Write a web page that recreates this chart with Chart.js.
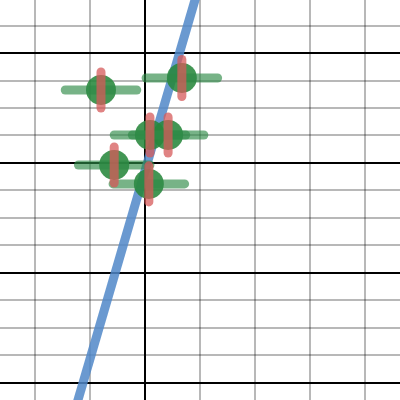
<!DOCTYPE html>
<html>
<head>
<style>html,body{margin:0;padding:0;background:#fff}#wrap{width:400px;height:400px}</style>
<script src="https://cdn.jsdelivr.net/npm/chart.js@4/dist/chart.umd.min.js"></script>
</head>
<body>
<div id="wrap"><canvas id="c"></canvas></div>
<script>
const xs = [-0.80, 0.67, 0.09, 0.42, -0.56, 0.07];
const ys = [0.664, 0.773, 0.255, 0.255, -0.018, -0.19];
const xErr = [0.65, 0.65, 0.65, 0.65, 0.65, 0.65];
const yErr = [0.164, 0.168, 0.164, 0.164, 0.164, 0.164];
const fitX = [-1.3, 1.0];
const fitY = [-2.295, 1.638];

const errorBars = {
  id: "errorBars",
  afterDatasetsDraw(chart) {
    const { ctx, scales: { x, y } } = chart;
    ctx.save();
    ctx.lineCap = "round";
    ctx.lineWidth = 9;
    ctx.strokeStyle = "rgba(46,139,70,0.65)";
    xs.forEach((v, i) => {
      ctx.beginPath();
      ctx.moveTo(x.getPixelForValue(v - xErr[i]), y.getPixelForValue(ys[i]));
      ctx.lineTo(x.getPixelForValue(v + xErr[i]), y.getPixelForValue(ys[i]));
      ctx.stroke();
    });
    ctx.strokeStyle = "rgba(214,90,90,0.75)";
    xs.forEach((v, i) => {
      ctx.beginPath();
      ctx.moveTo(x.getPixelForValue(v), y.getPixelForValue(ys[i] - yErr[i]));
      ctx.lineTo(x.getPixelForValue(v), y.getPixelForValue(ys[i] + yErr[i]));
      ctx.stroke();
    });
    ctx.restore();
  },
};

new Chart(document.getElementById("c"), {
  type: "scatter",
  data: {
    datasets: [
      {
        data: fitX.map((v, i) => ({ x: v, y: fitY[i] })),
        showLine: true,
        borderColor: "rgba(80,135,200,0.85)",
        borderWidth: 9,
        pointRadius: 0,
        order: 2,
      },
      {
        data: xs.map((v, i) => ({ x: v, y: ys[i] })),
        pointRadius: 15,
        backgroundColor: "rgba(40,135,60,0.88)",
        borderWidth: 0,
        order: 1,
      },
    ],
  },
  options: {
    responsive: true,
    maintainAspectRatio: false,
    animation: false,
    layout: { padding: 0, autoPadding: false },
    plugins: { legend: { display: false }, tooltip: { enabled: false } },
    scales: {
      x: {
        min: -2.636, max: 4.636,
        afterBuildTicks: (s) => { s.ticks = [-2, -1, 0, 1, 2, 3, 4].map((v) => ({ value: v })); },
        ticks: { display: false },
        border: { display: false },
        grid: {
          drawTicks: false,
          lineWidth: 2,
          color: (c) => (c.tick && c.tick.value === 0 ? "#000" : "rgba(0,0,0,0.28)"),
        },
      },
      y: {
        min: -2.155, max: 1.482,
        afterBuildTicks: (s) => {
          const t = [];
          for (let k = -8; k <= 5; k++) t.push({ value: k / 4 });
          s.ticks = t;
        },
        ticks: { display: false },
        border: { display: false },
        grid: {
          drawTicks: false,
          lineWidth: 2,
          color: (c) => (c.tick && Number.isInteger(c.tick.value) ? "#000" : "rgba(0,0,0,0.28)"),
        },
      },
    },
  },
  plugins: [errorBars],
});
</script>
</body>
</html>
